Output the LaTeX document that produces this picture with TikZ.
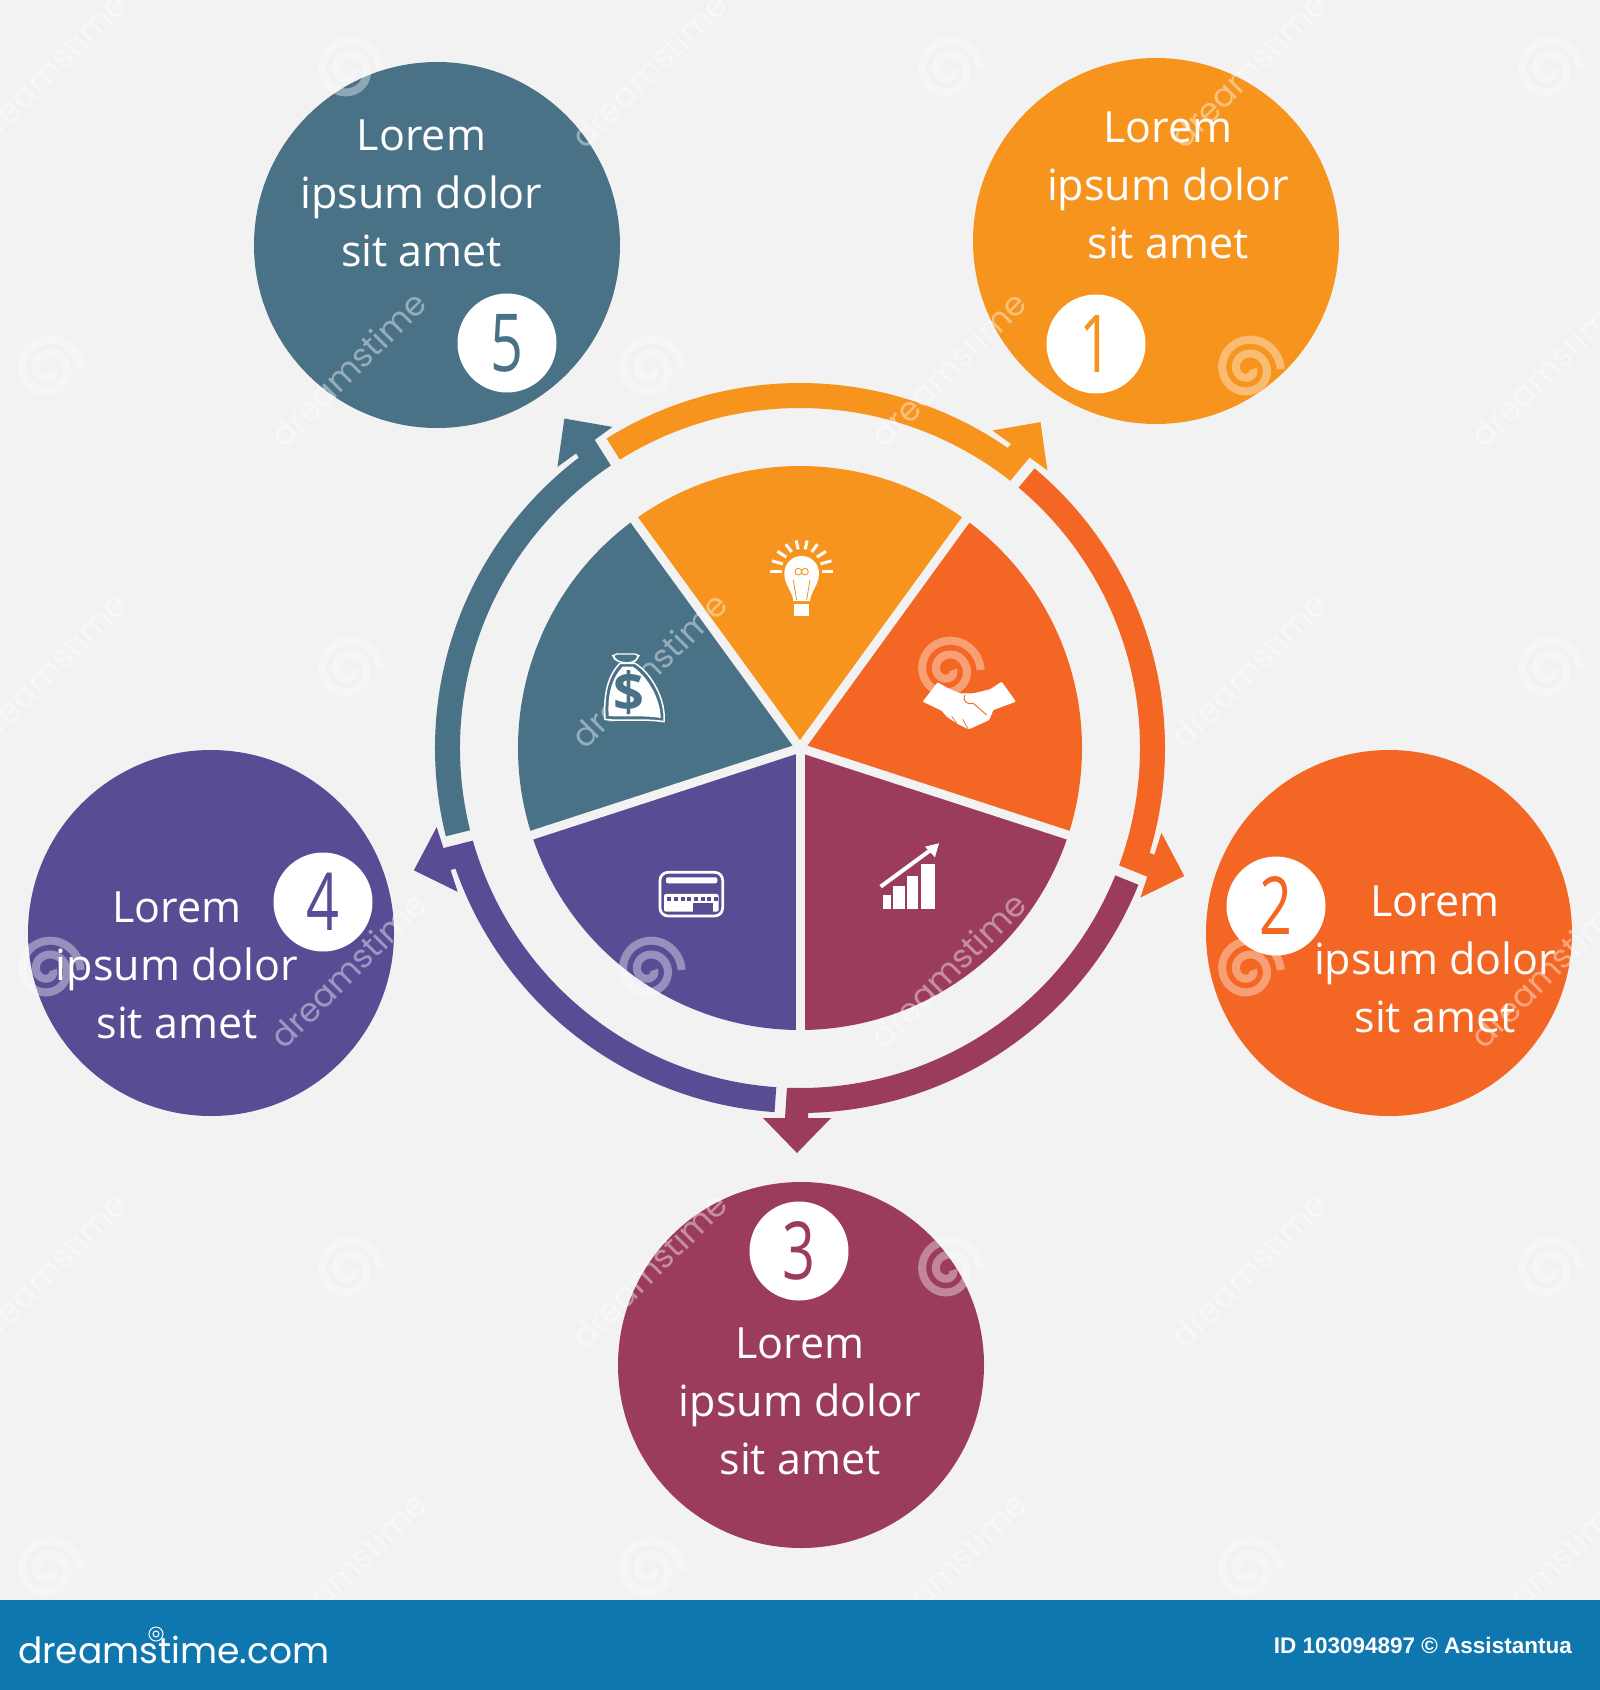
\documentclass[tikz,border=0pt]{standalone}
\usepackage{fontspec}
\usepackage{graphicx}
\setmainfont{Open Sans}
\newfontfamily\wmfont{Poppins}
\newfontfamily\idfont{Liberation Sans}
\definecolor{bgc}{HTML}{F2F2F2}
\definecolor{cyel}{HTML}{F7941E}
\definecolor{cora}{HTML}{F36623}
\definecolor{cmar}{HTML}{9B3C5F}
\definecolor{cpur}{HTML}{5A4C94}
\definecolor{ctea}{HTML}{4A7287}
\definecolor{cban}{HTML}{0F77AF}
\tikzset{
  bigdisc/.style={circle,minimum size=366pt,inner sep=0pt,fill=#1},
  numdisc/.style={circle,minimum size=99pt,inner sep=0pt,fill=white,text=#1,
    font=\fontsize{80}{80}\selectfont},
  lorem/.style={align=center,text=white,inner sep=0pt,anchor=center,
    font=\fontsize{43}{58}\selectfont},
  wmspiral/.style={draw=white,draw opacity=.38,line width=8pt},
  wmtext/.style={text=white,text opacity=.42,rotate=45,inner sep=0pt,
    font=\wmfont\fontsize{33}{33}\selectfont},
  gapline/.style={draw=bgc,line width=9pt},
  iconlayer/.style={x=.3333pt,y=-.3333pt},
}
\newcommand{\ringarrow}[2]{%
 \begin{scope}[rotate=#1]
  \fill[#2] (-22:340pt) arc[start angle=-22,end angle=-92.2,radius=340pt]
    -- (-15pt,-370pt) -- (-37pt,-370pt) -- (-3pt,-405pt) -- (31pt,-370pt)
    -- (8pt,-370pt) -- (-88.7:365pt)
    arc[start angle=-88.7,end angle=-22,radius=365pt] -- cycle;
 \end{scope}}
\newcommand{\sector}[3]{%
  \fill[#3] (0pt,0pt) -- (#1:282pt) arc[start angle=#1,end angle=#2,radius=282pt] -- cycle;}
\newcommand{\spiralat}[2]{%
  \draw[wmspiral,shift={(#1,#2)}] plot[domain=0:720,samples=80,smooth]
    ({(5+\x/26)*cos(\x)},{(5+\x/26)*sin(\x)});}
\begin{document}
\begin{tikzpicture}[x=1pt,y=-1pt]
\useasboundingbox (0,0) rectangle (1600,1690);
\fill[bgc] (0,0) rectangle (1600,1690);

% big circles
\node[bigdisc=cyel] (c1) at (1156,241) {};
\node[bigdisc=cora] (c2) at (1389,933) {};
\node[bigdisc=cmar] (c3) at (801,1365) {};
\node[bigdisc=cpur] (c4) at (211,933) {};
\node[bigdisc=ctea] (c5) at (437,245) {};

% pie and ring
\begin{scope}[shift={(800,748)},y=1pt]
  \sector{54}{126}{cyel}
  \sector{-18}{54}{cora}
  \sector{-90}{-18}{cmar}
  \sector{-162}{-90}{cpur}
  \sector{126}{198}{ctea}
  \foreach \a in {54,126,198,270,342}
    \draw[gapline] (0pt,0pt) -- (\a:290pt);
  \ringarrow{144}{cyel}
  \ringarrow{72}{cora}
  \ringarrow{0}{cmar}
  \ringarrow{-72}{cpur}
  \ringarrow{-144}{ctea}
\end{scope}

% watermark
\foreach \px in {348,948,1548} \foreach \py in {70,670,1270} {\spiralat{\px}{\py}}
\foreach \px in {48,649,1248} \foreach \py in {369,970,1570} {\spiralat{\px}{\py}}
\foreach \px in {48,649,1248} \foreach \py in {70,670,1270}
  \node[wmtext] at (\px,\py) {dreamstime};
\foreach \px in {348,948,1548} \foreach \py in {369,970,1570}
  \node[wmtext] at (\px,\py) {dreamstime};

% circle texts
\node[lorem] (t1) at (1168,185.5) {Lorem\\ipsum dolor\\sit amet};
\node[lorem] (t2) at (1435,959.5) {Lorem\\ipsum dolor\\sit amet};
\node[lorem] (t3) at (800,1401.5) {Lorem\\ipsum dolor\\sit amet};
\node[lorem] (t4) at (177,965.5) {Lorem\\ipsum dolor\\sit amet};
\node[lorem] (t5) at (421.5,193.5) {Lorem\\ipsum dolor\\sit amet};

% number discs
\node[numdisc=cyel] (n1) at (1096,344) {\scalebox{.72}[1]{1}};
\node[numdisc=cora] (n2) at (1276,906) {\scalebox{.72}[1]{2}};
\node[numdisc=cmar] (n3) at (799,1251) {\scalebox{.72}[1]{3}};
\node[numdisc=cpur] (n4) at (323,902) {\scalebox{.72}[1]{4}};
\node[numdisc=ctea] (n5) at (507,343) {\scalebox{.72}[1]{5}};

% bulb icon
\begin{scope}[shift={(580,520)},iconlayer]
  \foreach \a in {0,20,...,180}
    \draw[white,line width=3pt] ({665+60*cos(\a)},{155-68*sin(\a)}) -- ({665+95*cos(\a)},{155-95*sin(\a)});
  \fill[white] (640,243) .. controls (638,215) and (613,195) .. (613,160)
     .. controls (613,130) and (637,108) .. (665,108)
     .. controls (693,108) and (717,130) .. (717,160)
     .. controls (717,195) and (692,215) .. (690,243) -- cycle;
  \fill[white] (642,252) rectangle (688,288);
  \draw[cyel,line width=.8pt] (650,240) -- (640,180) (680,240) -- (690,180);
  \draw[cyel,line width=.9pt] (655,155) circle[radius=10] (675,155) circle[radius=10];
\end{scope}

% money bag icon
\begin{scope}[shift={(580,520)},iconlayer]
  \draw[white,line width=1.3pt,rounded corners=5pt] (95,402) -- (180,402) -- (170,418) -- (160,428) -- (122,428) -- (105,418) -- cycle;
  \draw[white,line width=1.5pt,fill=ctea] (120,430) .. controls (85,465) and (70,520) .. (75,598)
     .. controls (120,605) and (190,595) .. (252,605)
     .. controls (258,540) and (215,460) .. (165,430) -- cycle;
  \fill[white] (128,440) .. controls (95,475) and (82,525) .. (86,588)
     .. controls (130,592) and (190,585) .. (242,594)
     .. controls (242,540) and (205,470) .. (158,440) -- cycle;
  \node[text=ctea,inner sep=0pt,font=\bfseries\fontsize{54}{54}\selectfont] (dollar) at (148,518) {\$};
\end{scope}

% handshake icon
\begin{scope}[shift={(640,640)},iconlayer]
  \fill[white,rounded corners=1pt] (848,185) -- (893,127) -- (925,145) -- (960,160) -- (1000,160)
     -- (1050,148) -- (1085,125) -- (1128,185) -- (1060,210) -- (1048,240) -- (1000,262)
     -- (985,268) -- (950,250) -- (920,230) -- (905,212) -- cycle;
  \draw[cora,line width=.9pt] (975,165) .. controls (965,185) and (985,195) .. (1000,190)
     -- (1040,225);
  \draw[cora,line width=.7pt] (985,268) -- (968,238) (950,250) -- (935,228);
\end{scope}

% chart icon
\begin{scope}[shift={(640,640)},iconlayer]
  \fill[white] (728,765) rectangle (752,808);
  \fill[white] (760,737) rectangle (795,808);
  \fill[white] (802,708) rectangle (835,808);
  \fill[white] (843,672) rectangle (885,808);
  \draw[white,line width=4pt] (722,740) -- (872,630);
  \fill[white] (897,610) -- (855,620) -- (885,652) -- cycle;
\end{scope}

% card icon
\begin{scope}[shift={(640,640)},iconlayer]
  \draw[white,line width=2.7pt,rounded corners=8pt] (60,697) rectangle (248,828);
  \fill[white,rounded corners=2pt] (78,712) rectangle (232,730);
  \fill[white,rounded corners=2pt] (72,762) rectangle (236,815);
  \foreach \k in {0,1,...,7}
    \fill[cpur] ({82+\k*20},772) rectangle ({94+\k*20},782);
  \fill[cpur] (160,790) rectangle (218,815);
\end{scope}

% banner
\fill[cban] (0,1600) rectangle (1600,1690);
\node[anchor=base west,inner sep=0pt,text=white,font=\wmfont\fontsize{36}{36}\selectfont] (brand) at (18,1663) {dreamstime.com};
\draw[white,line width=1pt] (156,1634) circle[radius=7] (156,1634) circle[radius=3];
\node[anchor=base east,inner sep=0pt,text=white,font=\idfont\bfseries\fontsize{22.5}{24}\selectfont] (credit) at (1572,1653) {ID 103094897 © Assistantua};
\end{tikzpicture}
\end{document}
